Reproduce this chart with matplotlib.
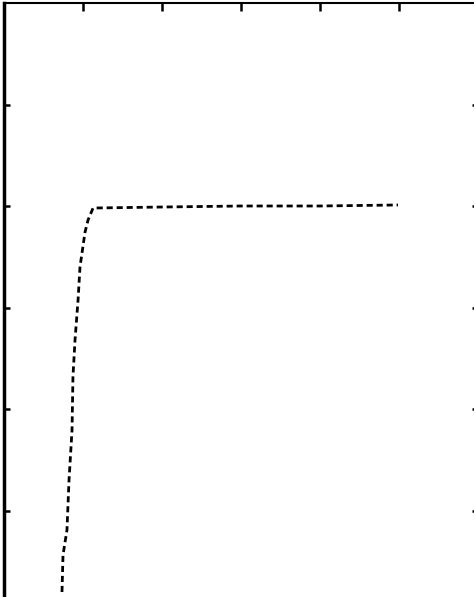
import matplotlib
matplotlib.use('Agg')
import matplotlib.pyplot as plt

# Curve values (axis units, 1 unit per major tick)
x_vals = [0.734, 0.747, 0.797, 0.823, 0.861, 0.873, 0.899, 0.937, 0.962,
          1.025, 1.063, 1.127, 2.0, 3.0, 4.0, 4.987]
y_vals = [0.197, 0.562, 0.808, 1.30, 1.79, 2.32, 2.68, 3.07, 3.40,
          3.74, 3.86, 3.98, 3.99, 4.0, 4.0, 4.01]
x_ticks = [1, 2, 3, 4, 5]
y_ticks = [1, 2, 3, 4, 5]

fig = plt.figure(figsize=(4.74, 5.97), dpi=100)
# axes run past the right and bottom edges, like the cropped scan
ax = fig.add_axes([4 / 474, -15 / 597, 474 / 474, 609 / 597])

ax.plot(x_vals, y_vals, color='black', linewidth=2.0, linestyle=(0, (2.2, 1.4)))

ax.set_xlim(0, 6)
ax.set_ylim(0, 6)
ax.set_xticks(x_ticks)
ax.set_yticks(y_ticks)
ax.tick_params(direction='in', top=True, bottom=False, left=True, right=True,
               labelbottom=False, labelleft=False, length=6, width=1.8)
ax.tick_params(axis='y', which='major', length=4)

for side in ['top', 'right', 'bottom']:
    ax.spines[side].set_linewidth(1.5)
ax.spines['left'].set_linewidth(2.5)

fig.savefig('out.png', dpi=100)
